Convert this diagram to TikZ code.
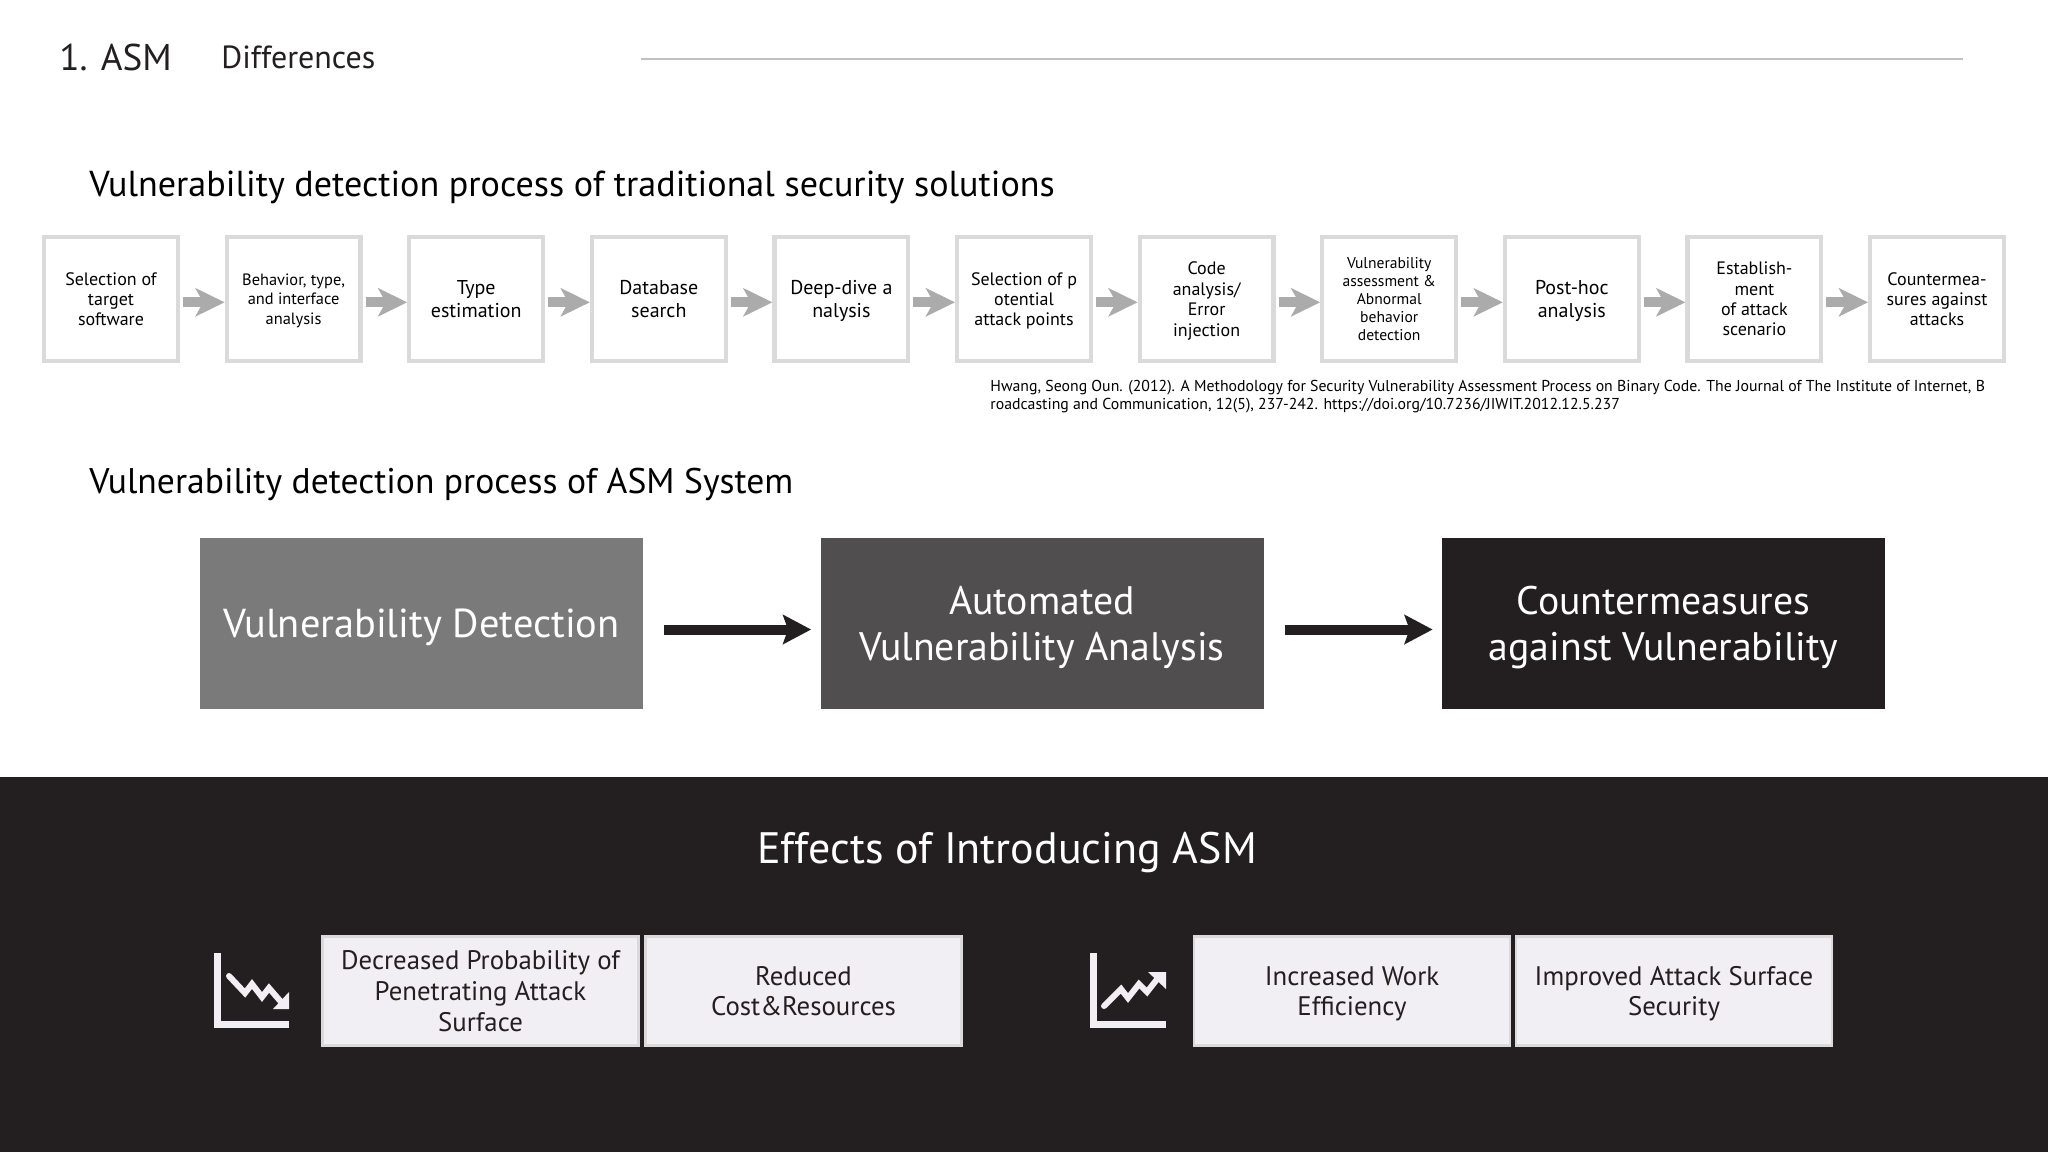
\documentclass[tikz,border=0pt]{standalone}
\usepackage{fontspec}
\setmainfont{PT Sans}
\usetikzlibrary{arrows.meta}
\definecolor{ink}{HTML}{231F20}
\definecolor{midg}{HTML}{514E4F}
\definecolor{lowg}{HTML}{7A7A7A}
\definecolor{pale}{HTML}{F1EFF3}
\definecolor{edgeg}{HTML}{DADADA}
\definecolor{arrg}{HTML}{ABABAB}
\definecolor{rulegray}{HTML}{C0C0C0}
\newcommand{\fs}[2]{\fontsize{#1pt}{#2pt}\selectfont}
\tikzset{
  stepbox/.style={draw=edgeg,line width=2.1pt,fill=white,minimum width=66.9pt,minimum height=61.9pt,inner sep=0pt,align=center,text=black,text depth=0pt},
  bigbox/.style={minimum width=221.5pt,minimum height=85.5pt,inner sep=0pt,align=center,text=white,text depth=-1pt,font=\fs{20.2}{23}},
  effbox/.style={draw=edgeg,line width=1.2pt,fill=pale,minimum width=158pt,minimum height=54.5pt,inner sep=0pt,align=center,text=ink,text depth=0pt,font=\fs{13.4}{15.3}},
  grayarrow/.style={draw=arrg,line width=5pt,-{Stealth[length=14.5pt,width=14pt,inset=3.8pt]},shorten <=1.5pt},
  blackarrow/.style={draw=ink,line width=5pt,-{Stealth[length=14pt,width=14.5pt,inset=2.5pt]},shorten <=10.5pt,shorten >=4.5pt},
  iconline/.style={draw=pale,line width=3.5pt},
  zigline/.style={draw=pale,line width=3pt,line cap=round},
  txt/.style={inner sep=0pt,anchor=west,text=ink}
}
\begin{document}
\begin{tikzpicture}[x=0.5pt,y=-0.5pt]
\useasboundingbox (0,0) rectangle (2048,1152);
\fill[white] (0,0) rectangle (2048,1152);
\fill[ink] (0,777) rectangle (2048,1152);
\node[txt,font=\fs{18.6}{21}] (ttl) at (59,57) {1. ASM};
\node[txt,font=\fs{16}{18}] (sub) at (221,57) {Differences};
\coordinate (r0) at (641,59); \coordinate (r1) at (1963,59);
\draw[draw=rulegray,line width=0.6pt] (r0) -- (r1);
\node[txt,font=\fs{18.05}{20},text=black] (h1) at (89,187.5) {Vulnerability detection process of traditional security solutions};
\node[txt,font=\fs{17.8}{20},text=black] (h2) at (89,484) {Vulnerability detection process of ASM System};
\node[stepbox,font=\fs{9}{10.2}] (s1) at (111,299) {Selection of\\target\\software};
\node[stepbox,font=\fs{8.2}{9.6}] (s2) at (293.6,299) {Behavior, type,\\and interface\\analysis};
\node[stepbox,font=\fs{10}{11.4}] (s3) at (476.2,299) {Type\\estimation};
\node[stepbox,font=\fs{10}{11.4}] (s4) at (658.8,299) {Database\\search};
\node[stepbox,font=\fs{10}{11.4}] (s5) at (841.4,299) {Deep-dive a\\nalysis};
\node[stepbox,font=\fs{9}{10.2}] (s6) at (1024,299) {Selection of p\\otential\\attack points};
\node[stepbox,font=\fs{9}{10.2}] (s7) at (1206.6,299) {Code\\analysis/\\Error\\injection};
\node[stepbox,font=\fs{7.8}{9}] (s8) at (1389.2,299) {Vulnerability\\assessment \&\\Abnormal\\behavior\\detection};
\node[stepbox,font=\fs{10}{11.4}] (s9) at (1571.8,299) {Post-hoc\\analysis};
\node[stepbox,font=\fs{9}{10.2}] (s10) at (1754.4,299) {Establish-\\ment\\of attack\\scenario};
\node[stepbox,font=\fs{9}{10.2}] (s11) at (1937,299) {Countermea-\\sures against\\attacks};
\foreach \a/\b in {s1/s2,s2/s3,s3/s4,s4/s5,s5/s6,s6/s7,s7/s8,s8/s9,s9/s10,s10/s11}
  \draw[grayarrow] ([yshift=-1.65pt]\a.east) -- ([yshift=-1.65pt]\b.west);
\node[txt,anchor=north west,align=left,font=\fs{7.9}{9},text=black] (cite) at (990,380) {Hwang, Seong Oun. (2012). A Methodology for Security Vulnerability Assessment Process on Binary Code. The Journal of The Institute of Internet, B\\roadcasting and Communication, 12(5), 237-242. https://doi.org/10.7236/JIWIT.2012.12.5.237};
\node[bigbox,fill=lowg] (b1) at (421.5,623.5) {Vulnerability Detection};
\node[bigbox,fill=midg,font=\fs{19.9}{23}] (b2) at (1042,623.5) {Automated\\Vulnerability Analysis};
\node[bigbox,fill=ink,font=\fs{19.9}{23}] (b3) at (1663.5,623.5) {Countermeasures\\against Vulnerability};
\draw[blackarrow] ([yshift=-3pt]b1.east) -- ([yshift=-3pt]b2.west);
\draw[blackarrow] ([yshift=-3pt]b2.east) -- ([yshift=-3pt]b3.west);
\node[inner sep=0pt,text=white,font=\fs{22}{24}] (eff) at (1007,852) {Effects of Introducing ASM};
\node[effbox] (e1) at (480.5,991) {Decreased Probability of\\Penetrating Attack\\Surface};
\node[effbox] (e2) at (803.5,991) {Reduced\\Cost\&Resources};
\node[effbox] (e3) at (1352,991) {Increased Work\\Efficiency};
\node[effbox] (e4) at (1674,991) {Improved Attack Surface\\Security};
% icons
\draw[iconline] (217.5,953) -- (217.5,1024.5) -- (289,1024.5);
\draw[zigline] (229,976) -- (245,993) -- (252,984) -- (262,997) -- (269,988) -- (282,1003);
\fill[pale] (289,992) -- (289,1009) -- (273,1009) -- cycle;
\draw[iconline] (1093.5,953) -- (1093.5,1024.5) -- (1166,1024.5);
\draw[zigline] (1104,1006) -- (1121,989) -- (1128,998) -- (1139,984) -- (1147,992) -- (1158,978);
\fill[pale] (1148,972) -- (1166,972) -- (1166,989) -- cycle;
\end{tikzpicture}
\end{document}
